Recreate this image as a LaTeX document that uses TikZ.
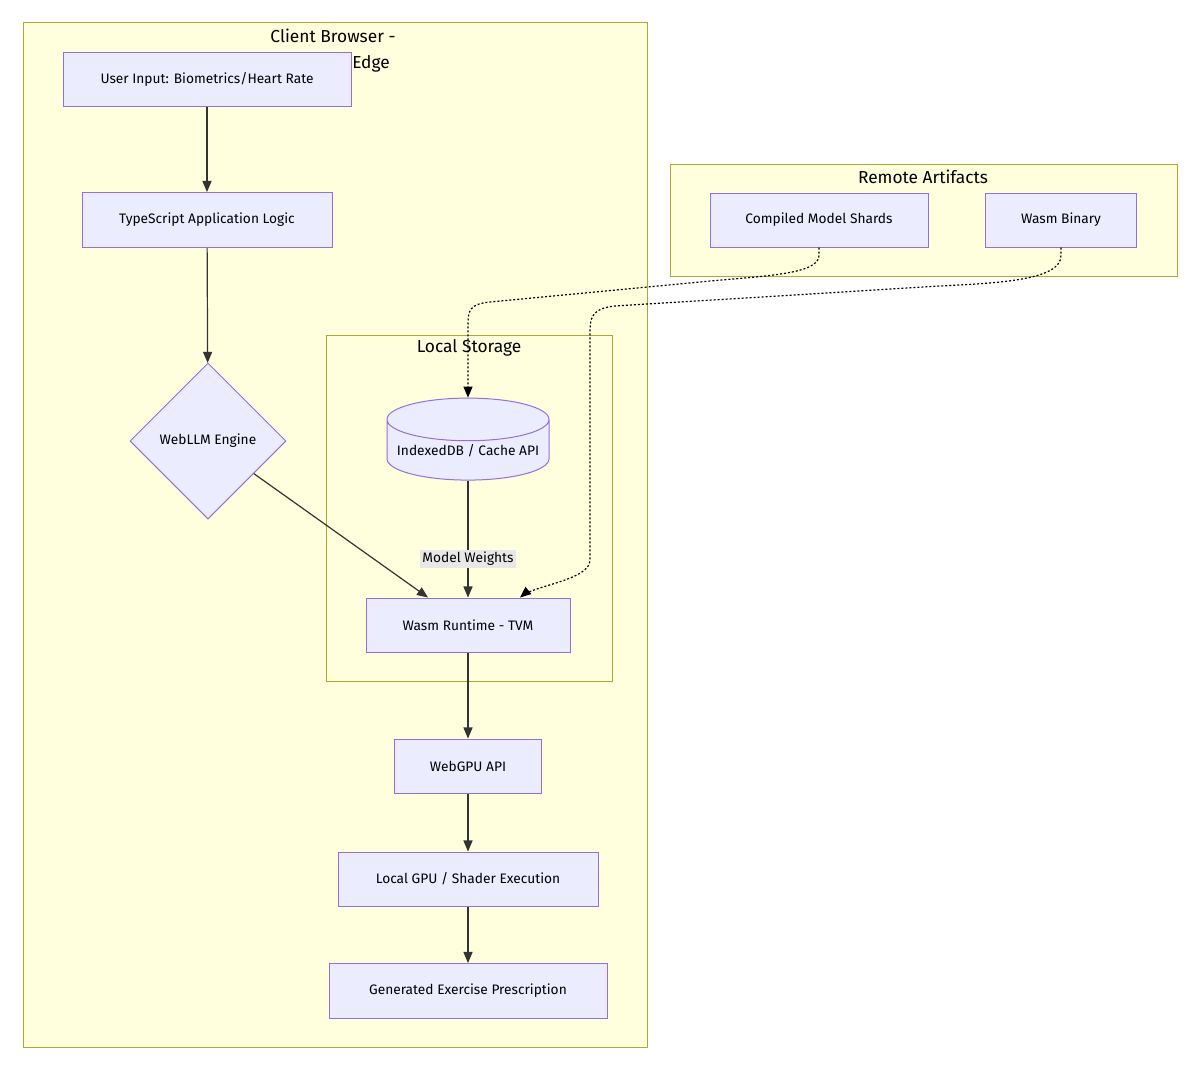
\documentclass[tikz,border=0pt]{standalone}
\usepackage{fontspec}
\setmainfont{Fira Sans}
\usetikzlibrary{arrows}
\usetikzlibrary{shapes.geometric}
\usetikzlibrary{positioning, calc}
\definecolor{clusterfill}{HTML}{FFFFDE}
\definecolor{clusterline}{HTML}{AAAA33}
\definecolor{nodefill}{HTML}{ECECFF}
\definecolor{nodeline}{HTML}{9370DB}
\definecolor{edgecol}{HTML}{333333}
\definecolor{labelfill}{HTML}{E8E8E8}
\tikzset{
  box/.style={draw=nodeline, fill=nodefill, line width=0.75pt, inner sep=0pt,
    font=\fontsize{10.3}{12}\selectfont},
  cluster/.style={draw=clusterline, fill=clusterfill, line width=0.75pt},
  clustertitle/.style={font=\fontsize{13}{15}\selectfont, inner sep=0pt},
  edge/.style={draw=edgecol, line width=0.9pt, -triangle 45},
  remote/.style={draw=black, line width=0.9pt, dash pattern=on 1.5pt off 1.5pt, -triangle 45},
}
\begin{document}
\begin{tikzpicture}[x=0.75pt, y=-0.75pt]
  \useasboundingbox (0,0) rectangle (1200,1071);
  % subgraphs
  \draw[cluster] (23,22) rectangle (647,1047);
  \node[clustertitle] (cbtitle) at (333,36) {Client Browser -};
  \node[clustertitle] (cbtitle2) at (371,64) {Edge};
  \draw[cluster] (670,164) rectangle (1177,276);
  \node[clustertitle] (ratitle) at (923,177) {Remote Artifacts};
  \draw[cluster] (326,335) rectangle (612,681);
  \node[clustertitle] (lstitle) at (469,348) {Local Storage};

  % nodes
  \node[box, minimum width=288*0.75pt, minimum height=54*0.75pt] (input) at (207,79) {User Input: Biometrics/Heart Rate};
  \node[box, minimum width=250*0.75pt, minimum height=55*0.75pt] (logic) at (207,220) {TypeScript Application Logic};
  \node[box, diamond, minimum width=156*0.75pt, minimum height=156*0.75pt] (engine) at (208,441) {WebLLM Engine};
  \node[box, cylinder, shape border rotate=90, aspect=0.3, minimum width=162*0.75pt, minimum height=82*0.75pt] (cache) at (468,450) {\raisebox{-1.6ex}{IndexedDB / Cache API}};
  \node[box, minimum width=204*0.75pt, minimum height=54*0.75pt] (runtime) at (468,625) {Wasm Runtime - TVM};
  \node[box, minimum width=147*0.75pt, minimum height=54*0.75pt] (webgpu) at (468,766) {WebGPU API};
  \node[box, minimum width=260*0.75pt, minimum height=54*0.75pt] (gpu) at (468,879) {Local GPU / Shader Execution};
  \node[box, minimum width=278*0.75pt, minimum height=55*0.75pt] (output) at (468,991) {Generated Exercise Prescription};
  \node[box, minimum width=218*0.75pt, minimum height=54*0.75pt] (shards) at (819,220) {Compiled Model Shards};
  \node[box, minimum width=151*0.75pt, minimum height=54*0.75pt] (binary) at (1061,220) {Wasm Binary};

  % connectors
  \draw[edge] (input) -- (logic);
  \draw[edge] (logic) -- (engine);
  \draw[edge] (engine) -- (runtime.north -| 428,0);
  \draw[edge] (cache) -- node[fill=labelfill, inner sep=1.5pt, font=\fontsize{10.3}{12}\selectfont, pos=0.67] {Model Weights} (runtime);
  \draw[edge] (runtime) -- (webgpu);
  \draw[edge] (webgpu) -- (gpu);
  \draw[edge] (gpu) -- (output);
  \draw[remote] (shards.south) -- ++(0,8) .. controls (819,275) and (760,276) .. (700,282)
    -- (490,302) .. controls (470,304) and (468,310) .. (468,325) -- (cache.north);
  \draw[remote] (binary.south) -- ++(0,8) .. controls (1061,280) and (1000,283) .. (940,286)
    -- (615,306) .. controls (595,308) and (590,315) .. (590,330) -- (590,560)
    .. controls (590,580) and (535,585) .. (runtime.north -| 520,0);
\end{tikzpicture}
\end{document}
